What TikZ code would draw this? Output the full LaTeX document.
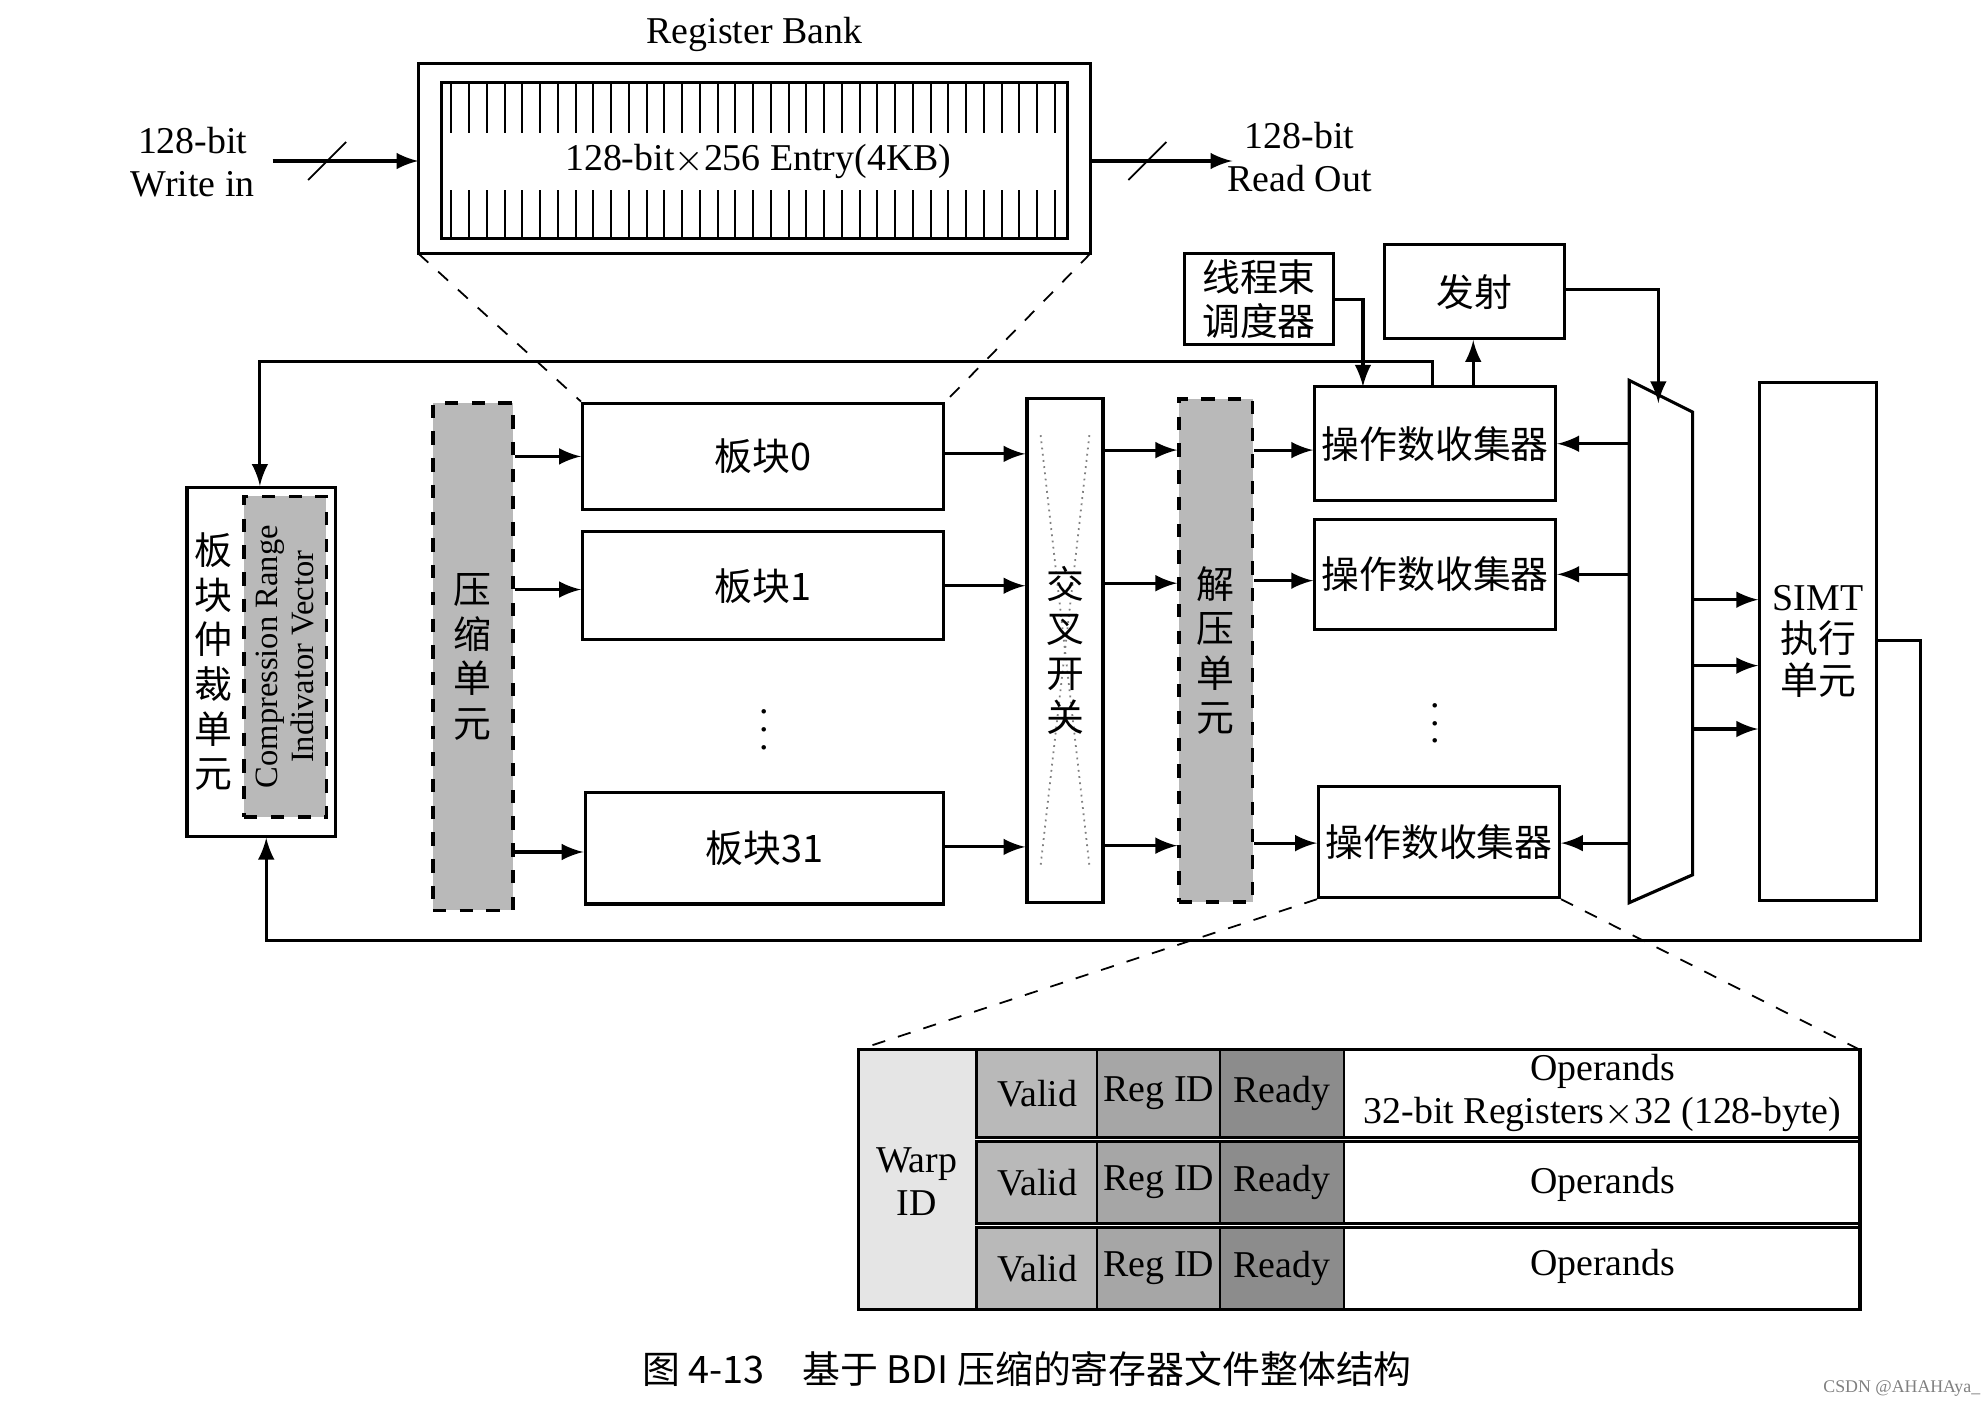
\documentclass[tikz,border=0pt]{standalone}
\usepackage{fontspec}
\usetikzlibrary{calc}
\setmainfont{Liberation Serif}
\newfontfamily\cjk{Noto Sans CJK SC}
\begin{document}
\begin{tikzpicture}[x=0.1mm,y=-0.1mm,font=\fontsize{8.5}{9.5}\selectfont,
 box/.style={draw,line width=0.7pt},
 gbox/.style={draw,dashed,line width=0.8pt,fill=gray!55},
 arr/.style={-latex,line width=0.7pt},
 txt/.style={align=center,inner sep=0pt},
 ck/.style={font=\fontsize{8.5}{10}\selectfont\cjk}]
\useasboundingbox (0,0) rectangle (1568,1108);
% register bank
\node[txt] (rbl) at (595,27) {Register Bank};
\draw[box] (330,50) rectangle (860,200);
\draw[box] (348,65) rectangle (842,188);
\foreach \i in {0,...,34}{\draw (356+\i*14,65) -- (356+\i*14,105); \draw (356+\i*14,150) -- (356+\i*14,188);}
\node[txt,fill=white,inner sep=2pt] (rb) at (598,127) {128-bit$\times$256 Entry(4KB)};
\coordinate (rbw) at (330,127); \coordinate (rbe) at (860,127);
\node[txt] (wi) at (152,128) {128-bit\\Write in};
\node[txt] (ro) at (1025,124) {128-bit\\Read Out};
\coordinate (wis) at (215,127); \coordinate (roe) at (972,127);
\draw[arr] (wis) -- (rbw); \draw (243,142) -- (273,112);
\draw[arr] (rbe) -- (roe); \draw (890,142) -- (920,112);
% banks
\node[box,ck,minimum width=28.5mm,minimum height=8.4mm] (b0) at (602,360) {板块0};
\node[box,ck,minimum width=28.5mm,minimum height=8.5mm] (b1) at (602,462) {板块1};
\node[txt] (bd) at (603,565) {$\vdots$};
\node[box,ck,minimum width=28.3mm,minimum height=8.8mm] (b31) at (603,669) {板块31};
\draw[dashed] (330,200) -- (b0.north west); \draw[dashed] (860,200) -- (b0.north east);
% compression
\node[gbox,minimum width=6.3mm,minimum height=40mm] (cu) at (373,518) {};
\node[txt,ck] at (cu) {压\\缩\\单\\元};
\node[box,minimum width=6mm,minimum height=39.7mm] (xb) at (840,513) {};
\draw[densely dotted,gray] ($(xb.north west)+(12,30)$) -- ($(xb.south east)+(-12,-30)$);
\draw[densely dotted,gray] ($(xb.north east)+(-12,30)$) -- ($(xb.south west)+(12,-30)$);
\node[txt,ck] at (xb) {交\\叉\\开\\关};
\node[gbox,minimum width=5.8mm,minimum height=39.7mm] (du) at (959,513) {};
\node[txt,ck] at (du) {解\\压\\单\\元};
\foreach \y/\b in {360/b0,465/b1,672/b31}{\draw[arr] (cu.east|-0,\y) -- (\b.west|-0,\y);}
\foreach \y/\b in {358/b0,462/b1,668/b31}{\draw[arr] (\b.east|-0,\y) -- (xb.west|-0,\y);}
\foreach \y in {355,460,667}{\draw[arr] (xb.east|-0,\y) -- (du.west|-0,\y);}
% collectors
\node[box,ck,minimum width=19mm,minimum height=9mm,inner sep=0pt] (c0) at (1132,350) {操作数收集器};
\node[box,ck,minimum width=19mm,minimum height=8.7mm,inner sep=0pt] (c1) at (1132,453) {操作数收集器};
\node[txt] (cd) at (1132,560) {$\vdots$};
\node[box,ck,minimum width=19mm,minimum height=8.8mm,inner sep=0pt] (c2) at (1135,664) {操作数收集器};
\draw[arr] (du.east|-0,355) -- (c0.west|-0,355);
\draw[arr] (du.east|-0,458) -- (c1.west|-0,458);
\draw[arr] (du.east|-0,665) -- (c2.west|-0,665);
% scheduler / issue
\node[box,ck,txt,minimum width=11.7mm,minimum height=7.2mm] (ws) at (993,236) {线程束\\调度器};
\node[box,ck,minimum width=14.2mm,minimum height=7.4mm] (is) at (1163,230) {发射};
\draw[arr] (ws.east) -| (1075,305);
\draw[arr] (1162,305) -- (is.south-|1162,0);
% mux
\draw[box] (1285,300) -- (1335,325) -- (1335,690) -- (1285,712) -- cycle;
\coordinate (mt) at (1308,318);
\draw[arr] (is.east|-0,228) -| (mt);
\foreach \y/\c in {350/c0,453/c1,665/c2}{\draw[arr] (1285,\y) -- (\c.east|-0,\y);}
% SIMT
\node[box,minimum width=9.2mm,minimum height=40.8mm] (simt) at (1434,506) {};
\node[txt] at (simt) {SIMT\\\cjk 执行\\\cjk 单元};
\foreach \y in {473,525,575}{\draw[arr] (1335,\y) -- (simt.west|-0,\y);}
% arbitration
\node[box,minimum width=11.7mm,minimum height=27.5mm] (ar) at (206,522) {};
\node[gbox,minimum width=6.5mm,minimum height=25.3mm] (civ) at (225,518) {};
\node[txt,ck] at (168,522) {板\\块\\仲\\裁\\单\\元};
\node[txt,rotate=90,font=\fontsize{7.3}{8}\selectfont] at (civ) {Compression Range\\Indivator Vector};
\draw[arr] (1130,305) -- (1130,285) -- (205,285) -- (ar.north-|205,0);
\draw[arr] (simt.east|-0,505) -- (1515,505) -- (1515,742) -- (210,742) -- (ar.south-|210,0);
% table
\draw[dashed] (c2.south west) -- (677,828); \draw[dashed] (c2.south east) -- (1467,828);
\fill[gray!20] (677,828) rectangle (770,1033);
\node[txt] (wid) at (723,932) {Warp\\ID};
\foreach \a/\b in {828/897,900/965,968/1033}{
 \fill[gray!55] (770,\a) rectangle (865,\b);
 \fill[gray!70] (865,\a) rectangle (962,\b);
 \fill[gray!90] (962,\a) rectangle (1060,\b);
 \draw[box] (770,\a) rectangle (1467,\b);
 \foreach \x in {865,962,1060}{\draw (\x,\a) -- (\x,\b);}
 \node[txt] at (818,{(\a+\b)/2}) {Valid};
 \node[txt] at (914,{(\a+\b)/2}) {Reg ID};
 \node[txt] at (1011,{(\a+\b)/2}) {Ready};
}
\draw[box] (677,828) rectangle (1467,1033);
\node[txt] at (1264,862) {Operands\\32-bit Registers$\times$32 (128-byte)};
\node[txt] at (1264,934) {Operands};
\node[txt] at (1264,999) {Operands};
\node[txt,ck] (cap) at (810,1080) {图 4-13\quad 基于 BDI 压缩的寄存器文件整体结构};
\node[txt,font=\fontsize{4}{5}\selectfont,gray] at (1500,1095) {CSDN @AHAHAya\_};
\end{tikzpicture}
\end{document}
